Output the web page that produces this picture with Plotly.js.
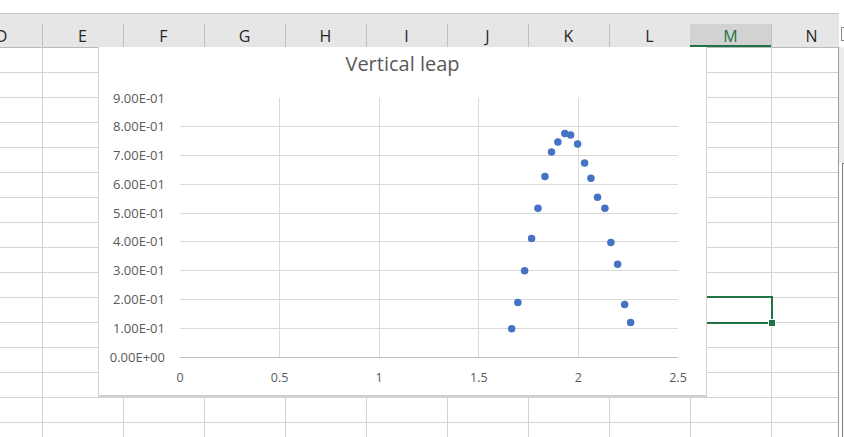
<!DOCTYPE html>
<html>
<head>
<meta charset="utf-8">
<script src="https://cdn.plot.ly/plotly-3.0.1.min.js"></script>
<style>
  body { margin: 0; width: 844px; height: 437px; overflow: hidden; background: #fff; position: relative; font-family: "Open Sans", sans-serif; }
  .abs { position: absolute; }
  #hdr { left: 0; top: 13px; width: 839px; height: 33px; background: #e6e6e6; border-top: 1px solid #c8c8c8; border-bottom: 1px solid #b9b9b9; }
  .col { top: 24px; height: 23px; text-align: center; font-size: 16px; line-height: 24px; color: #262626; }
  .vsep { top: 24px; width: 1px; height: 23px; background: #bfbfbf; }
  .gv { top: 47px; width: 1px; height: 390px; background: #d4d4d4; }
  .gh { left: 0; width: 838px; height: 1px; background: #d4d4d4; }
  #wrap { left: 98px; top: 47px; width: 607px; height: 348px; background: #fff; border: 1px solid #d4d4d4; border-top: none; border-bottom: 2px solid #d0d0d0; z-index: 5; }
</style>
</head>
<body>
<div id="hdr" class="abs"></div>
<div id="grid"></div>
<div id="wrap" class="abs"><div id="chart"></div></div>

<script>
// measured jump: time (s) vs height (m)
const time = [1.665, 1.696, 1.730, 1.765, 1.797, 1.832, 1.865, 1.897, 1.932, 1.961,
              1.996, 2.031, 2.063, 2.096, 2.133, 2.163, 2.197, 2.232, 2.262];
const height = [0.098, 0.189, 0.300, 0.412, 0.517, 0.627, 0.712, 0.747, 0.777, 0.771,
                0.740, 0.674, 0.621, 0.555, 0.517, 0.398, 0.322, 0.182, 0.120];

const yTickVals = [0, 0.1, 0.2, 0.3, 0.4, 0.5, 0.6, 0.7, 0.8, 0.9];
const yTickLabels = ["0.00E+00", "1.00E-01", "2.00E-01", "3.00E-01", "4.00E-01",
                     "5.00E-01", "6.00E-01", "7.00E-01", "8.00E-01", "9.00E-01"];

const columns = ["D", "E", "F", "G", "H", "I", "J", "K", "L", "M", "N"];

// spreadsheet background
const grid = document.getElementById("grid");
function add(cls, css, txt) {
  const d = document.createElement("div");
  d.className = "abs " + cls;
  Object.assign(d.style, css);
  if (txt) d.textContent = txt;
  grid.appendChild(d);
  return d;
}
const colW = 81, firstEdge = 42;
columns.forEach((c, i) => {
  const left = firstEdge + (i - 1) * colW;
  if (c === "M") {
    add("", { left: left + "px", top: "24px", width: colW + "px", height: "21px", background: "#d2d2d2", borderBottom: "2px solid #217346" });
  }
  add("col", { left: left + "px", width: colW + "px", color: c === "M" ? "#217346" : "#262626" }, c);
  if (i > 0 && left + colW < 838) add("vsep", { left: (left + colW) + "px" });
});
add("vsep", { left: firstEdge + "px" });
for (let x = firstEdge; x < 838; x += colW) add("gv", { left: x + "px" });
for (let y = 72; y < 437; y += 25) add("gh", { top: y + "px" });
add("", { left: "838px", top: "47px", width: "1px", height: "390px", background: "#9a9a9a" });
add("", { left: "839px", top: "47px", width: "5px", height: "116px", background: "#ececec" });
add("", { left: "842px", top: "163px", width: "2px", height: "274px", borderLeft: "1px solid #7a7a7a", borderTop: "1px solid #7a7a7a" });
add("", { left: "841px", top: "27px", width: "4px", height: "12px", border: "1px solid #8a8a8a", background: "#fff" });
// selected cell M
add("", { left: "689px", top: "296px", width: "80px", height: "24px", border: "2px solid #217346", zIndex: 3 });
add("", { left: "768px", top: "319px", width: "6px", height: "6px", background: "#217346", border: "1px solid #fff", zIndex: 4 });

const trace = {
  x: time,
  y: height,
  type: "scatter",
  mode: "markers",
  marker: { color: "#4472C4", size: 7.5 },
  hoverinfo: "none"
};

const layout = {
  width: 607,
  height: 348,
  margin: { l: 81, r: 28, t: 51, b: 38 },
  paper_bgcolor: "#fff",
  plot_bgcolor: "#fff",
  showlegend: false,
  font: { family: "Open Sans, sans-serif", color: "#595959", size: 13 },
  title: {
    text: "Vertical leap",
    font: { size: 20, color: "#595959", family: "Open Sans, sans-serif" },
    x: 0.5, xref: "container", xanchor: "center",
    y: 1 - 17 / 348, yref: "container", yanchor: "middle"
  },
  xaxis: {
    range: [0, 2.5],
    dtick: 0.5,
    tick0: 0,
    showgrid: true,
    gridcolor: "#d9d9d9",
    zeroline: false,
    showline: true,
    linecolor: "#bfbfbf",
    ticks: "",
    ticklabelstandoff: 9,
    tickfont: { size: 12.5 },
    fixedrange: true
  },
  yaxis: {
    range: [0, 0.9],
    tickvals: yTickVals,
    ticktext: yTickLabels,
    showgrid: true,
    gridcolor: "#d9d9d9",
    zeroline: false,
    showline: false,
    ticks: "",
    ticklabelstandoff: 14,
    fixedrange: true
  }
};

Plotly.newPlot("chart", [trace], layout, { displayModeBar: false, staticPlot: true });
</script>
</body>
</html>
